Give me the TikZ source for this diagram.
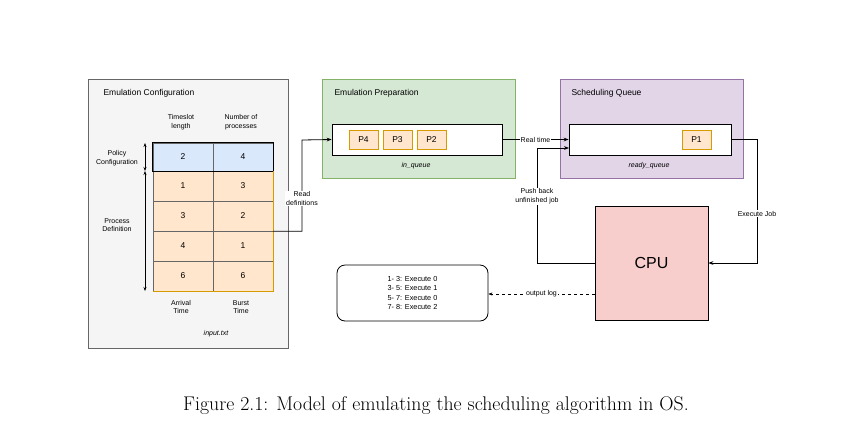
\documentclass[tikz,border=0pt]{standalone}
\usepackage{fontspec}
\setsansfont{Liberation Sans}
\usetikzlibrary{arrows.meta}
\definecolor{grayfill}{HTML}{F5F5F5}
\definecolor{grayline}{HTML}{666666}
\definecolor{bluefill}{HTML}{DAE8FC}
\definecolor{orfill}{HTML}{FFE6CC}
\definecolor{orline}{HTML}{D79B00}
\definecolor{grfill}{HTML}{D5E8D4}
\definecolor{grline}{HTML}{82B366}
\definecolor{pufill}{HTML}{E1D5E7}
\definecolor{puline}{HTML}{9673A6}
\definecolor{redfill}{HTML}{F8CECC}
\begin{document}
\begin{tikzpicture}[x=1pt,y=-1pt,
  lbl/.style={font=\sffamily\fontsize{7}{8.5}\selectfont, align=center, inner sep=1pt},
  ttl/.style={font=\sffamily\fontsize{8.5}{10}\selectfont, anchor=west},
  cell/.style={draw=grayline, minimum width=60pt, minimum height=30pt, font=\sffamily\fontsize{8.5}{10}\selectfont, inner sep=0pt},
  proc/.style={draw=orline, fill=orfill, minimum width=29pt, minimum height=19pt, font=\sffamily\fontsize{8.5}{10}\selectfont, inner sep=0pt},
  conn/.style={thick, -{Stealth[length=5pt]}},
  dbl/.style={thick, {Stealth[length=4pt]}-{Stealth[length=4pt]}},
  ]
\useasboundingbox (0,0) rectangle (866,426);
% emulation configuration
\draw[grayline, fill=grayfill] (88,79) rectangle (288,348);
\node[ttl] at (100,93) {Emulation Configuration};
\node[lbl] at (181,122) {Timeslot\\length};
\node[lbl] at (241,122) {Number of\\processes};
\node[cell, fill=bluefill, minimum height=28pt] (b1) at (183,157) {2};
\node[cell, fill=bluefill, minimum height=28pt] (b2) at (243,157) {4};
\node[cell, fill=orfill] (r1a) at (183,186) {1};
\node[cell, fill=orfill] (r1b) at (243,186) {3};
\node[cell, fill=orfill] (r2a) at (183,216) {3};
\node[cell, fill=orfill] (r2b) at (243,216) {2};
\node[cell, fill=orfill] (r3a) at (183,246) {4};
\node[cell, fill=orfill] (r3b) at (243,246) {1};
\node[cell, fill=orfill] (r4a) at (183,276) {6};
\node[cell, fill=orfill] (r4b) at (243,276) {6};
\draw[thick, black] (b1.north west) rectangle (b2.south east);
\draw[orline] (r1b.north east) -- (r4b.south east) -- (r4a.south west);
\draw[dbl] (145,143) -- (145,171);
\draw[dbl] (145,171) -- (145,291);
\node[lbl] at (117,158) {Policy\\Configuration};
\node[lbl] at (117,225) {Process\\Definition};
\node[lbl] at (181,307) {Arrival\\Time};
\node[lbl] at (241,307) {Burst\\Time};
\node[lbl, font=\sffamily\itshape\fontsize{7}{8.5}\selectfont] at (216,334) {input.txt};
% emulation preparation
\draw[grline, fill=grfill] (322,79) rectangle (515,178);
\node[ttl] at (331,93) {Emulation Preparation};
\node[draw, thick, fill=white, minimum width=170pt, minimum height=31pt, inner sep=0pt] (inq) at (417,139.5) {};
\node[proc] at (363.5,139.5) {P4};
\node[proc] at (397.5,139.5) {P3};
\node[proc] at (431.5,139.5) {P2};
\node[lbl, font=\sffamily\itshape\fontsize{7}{8.5}\selectfont] at (416,166) {in\_queue};
% scheduling queue
\draw[puline, fill=pufill] (560,79) rectangle (743,178);
\node[ttl] at (568,93) {Scheduling Queue};
\node[draw, thick, fill=white, minimum width=162pt, minimum height=31pt, inner sep=0pt] (rdq) at (650,139.5) {};
\node[proc] at (696.5,139.5) {P1};
\node[lbl, font=\sffamily\itshape\fontsize{7}{8.5}\selectfont] at (649,166) {ready\_queue};
% cpu
\node[draw, thick, fill=redfill, minimum width=113pt, minimum height=114pt, inner sep=0pt, font=\sffamily\fontsize{16}{19}\selectfont] (cpu) at (651.5,263) {CPU};
% log
\node[draw, thick, rounded corners=8pt, minimum width=151pt, minimum height=56pt, font=\sffamily\fontsize{7.3}{9.6}\selectfont, align=center] (log) at (412.5,293) {1- 3: Execute 0\\3- 5: Execute 1\\5- 7: Execute 0\\7- 8: Execute 2};
% connectors
\draw[conn] (r2b.south east) -| (302,140) node[lbl, fill=white, pos=0.68] {Read\\definitions} -- (inq.west);
\draw[conn] (inq.east) -- node[lbl, fill=white] {Real time} (rdq.west);
\draw[conn] (rdq.east) -| (757,263) node[lbl, fill=white, pos=0.8] {Execute Job} -- (cpu.east);
\draw[conn] (cpu.west) -| (537,148) node[lbl, fill=white, pos=0.79] {Push back\\unfinished job} -- (569,148);
\draw[dashed, -{Stealth[length=4pt]}] (cpu.west |- 0,294) -- node[lbl, fill=white] {output log} (log.east |- 0,294);
% caption
\node at (436,406) {\fontsize{19.8}{22}\selectfont Figure 2.1: Model of emulating the scheduling algorithm in OS.};
\end{tikzpicture}
\end{document}
